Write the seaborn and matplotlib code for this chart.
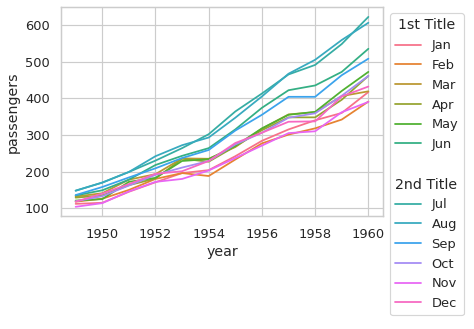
import numpy as np
import pandas as pd
import matplotlib
matplotlib.use("Agg")
import matplotlib.pyplot as plt
import matplotlib.lines as mlines
import seaborn as sns

years = [1949, 1950, 1951, 1952, 1953, 1954, 1955, 1956, 1957, 1958, 1959, 1960]
months = ["Jan", "Feb", "Mar", "Apr", "May", "Jun",
          "Jul", "Aug", "Sep", "Oct", "Nov", "Dec"]
p1949 = [112, 118, 132, 129, 121, 135, 148, 148, 136, 119, 104, 118]
p1950 = [115, 126, 141, 135, 125, 149, 170, 170, 158, 133, 114, 140]
p1951 = [145, 150, 178, 163, 172, 178, 199, 199, 184, 162, 146, 166]
p1952 = [171, 180, 193, 181, 183, 218, 230, 242, 209, 191, 172, 194]
p1953 = [196, 196, 236, 235, 229, 243, 264, 272, 237, 211, 180, 201]
p1954 = [204, 188, 235, 227, 234, 264, 302, 293, 259, 229, 203, 229]
p1955 = [242, 233, 267, 269, 270, 315, 364, 347, 312, 274, 237, 278]
p1956 = [284, 277, 317, 313, 318, 374, 413, 405, 355, 306, 271, 306]
p1957 = [315, 301, 356, 348, 355, 422, 465, 467, 404, 347, 305, 336]
p1958 = [340, 318, 362, 348, 363, 435, 491, 505, 404, 359, 310, 337]
p1959 = [360, 342, 406, 396, 420, 472, 548, 559, 463, 407, 362, 405]
p1960 = [417, 391, 419, 461, 472, 535, 622, 606, 508, 461, 390, 432]
rows_by_year = [p1949, p1950, p1951, p1952, p1953, p1954,
                p1955, p1956, p1957, p1958, p1959, p1960]

records = []
for y, row in zip(years, rows_by_year):
    for m, v in zip(months, row):
        records.append({"year": y, "month": m, "passengers": v})
df = pd.DataFrame(records)
df["month"] = pd.Categorical(df["month"], categories=months, ordered=True)

sns.set_theme(style="whitegrid")

W, H, DPI = 474, 329, 85
fig = plt.figure(figsize=(W / DPI, H / DPI), dpi=DPI)
ax = fig.add_axes([61 / W, 1 - 216.3 / H, (383 - 61) / W, (216.3 - 7.4) / H])

sns.lineplot(data=df, x="year", y="passengers", hue="month",
             hue_order=months, ax=ax)

handles, labels = ax.get_legend_handles_labels()
ax.get_legend().remove()
blank = mlines.Line2D([], [], linestyle="none")
blank2 = mlines.Line2D([], [], linestyle="none")
new_h = handles[:6] + [blank, blank2] + handles[6:]
new_l = labels[:6] + ["", "2nd Title"] + labels[6:]
leg = ax.legend(new_h, new_l, title="1st Title", loc="upper left",
                bbox_to_anchor=(390 / W, 1 - 13.3 / H),
                bbox_transform=fig.transFigure, borderaxespad=0,
                labelspacing=0.52)
leg.set_title("1st Title", prop={"size": 12})
leg.get_texts()[7].set_fontsize(12)

# make "2nd Title" sit at the handle position (no handle space)
try:
    col = leg._legend_handle_box.get_children()[0]
    row = col.get_children()[7]
    row.get_children()[0].width = 0
    row.sep = 0
except Exception:
    pass

fig.savefig("out.png", dpi=DPI)
